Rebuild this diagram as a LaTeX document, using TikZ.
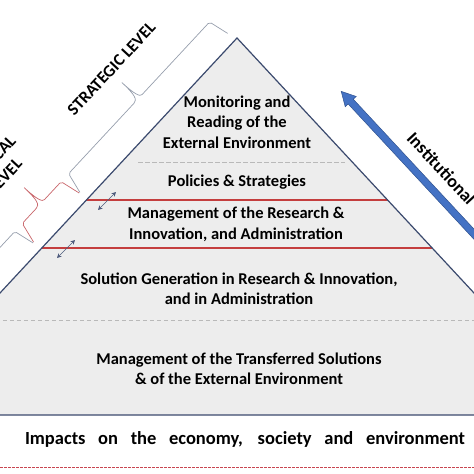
\documentclass[tikz,border=0pt]{standalone}
\usepackage{fontspec}
\setmainfont{Carlito}
\usetikzlibrary{calc,arrows.meta}
\definecolor{slate}{RGB}{59,74,110}
\definecolor{fillg}{RGB}{237,237,237}
\definecolor{redl}{RGB}{196,62,62}
\definecolor{braceg}{RGB}{150,158,172}
\definecolor{bracer}{RGB}{200,100,105}
\definecolor{blueA}{RGB}{68,114,196}
\definecolor{blueB}{RGB}{47,82,143}
\definecolor{dashg}{RGB}{185,185,185}
\definecolor{dashr}{RGB}{200,70,80}
\newcommand{\levelbrace}[4]{%
  \draw[#1, rounded corners=2pt] ({-(#2)},10) -- ({-(#2)-4},31) -- ({-(#3)+7},31)
    [sharp corners] .. controls ({-(#3)+2},31) and ({-(#3)},36) .. ({-(#3)},54)
    .. controls ({-(#3)},36) and ({-(#3)-2},31) .. ({-(#3)-7},31)
    [rounded corners=2pt] -- ({-(#4)+6},31) -- ({-(#4)},10);}
\begin{document}
\begin{tikzpicture}[x=1pt,y=1pt,
  body/.style={font=\fontsize{16.5}{20.5}\selectfont\bfseries, align=center, inner sep=0pt},
  lvl/.style={font=\fontsize{17}{20}\selectfont\bfseries, align=center, inner sep=0pt},
  redline/.style={draw=redl, line width=1.3pt},
  graydash/.style={draw=dashg, line width=0.9pt, dash pattern=on 4.5pt off 2.5pt},
  bracegray/.style={draw=braceg, line width=0.7pt},
  bracered/.style={draw=bracer, line width=0.7pt},
  dbl/.style={draw=slate!90, line width=0.7pt, {Stealth[length=4.5pt,width=4.5pt]}-{Stealth[length=4.5pt,width=4.5pt]}}
]
\useasboundingbox (0,0) rectangle (474,-474);
\clip (0,0) rectangle (474,-474);
\coordinate (A) at (237,-38);
\coordinate (BL) at (-113.4,-415);
\coordinate (BR) at (587.4,-415);
\fill[fillg] (A) -- (BL) -- (BR) -- cycle;
% inner lines
\coordinate (d1l) at (138,-162);
\coordinate (d1r) at (345,-162);
\draw[graydash] (d1l) -- (d1r);
\coordinate (r1l) at ($(A)!0.4297!(BL)$);
\coordinate (r1r) at ($(A)!0.4297!(BR)$);
\draw[redline] (r1l) -- (r1r);
\coordinate (r2l) at ($(A)!0.557!(BL)$);
\coordinate (r2r) at ($(A)!0.557!(BR)$);
\draw[redline] (r2l) -- (r2r);
\coordinate (d2l) at ($(A)!0.748!(BL)$);
\coordinate (d2r) at ($(A)!0.748!(BR)$);
\draw[graydash] (d2l) -- (d2r);
% outline
\draw[slate, line width=1.2pt, line join=miter] (A) -- (BL) -- (BR) -- cycle;
% texts
\node[body] (t1) at (237,-122) {Monitoring and\\Reading of the\\External Environment};
\node[body] (t2) at (237,-182) {Policies \& Strategies};
\node[body] (t3) at (236,-224.5) {Management of the Research \&\\Innovation, and Administration};
\node[body] (t4) at (239,-289) {Solution Generation in Research \& Innovation,\\and in Administration};
\node[body] (t5) at (239,-369) {Management of the Transferred Solutions\\\& of the External Environment};
\node[font=\fontsize{18.5}{22}\selectfont\bfseries, inner sep=0pt] (imp) at (245,-439)
  {\makebox[440pt][s]{Impacts on the economy, society and environment}};
\coordinate (bl0) at (0,-467);
\coordinate (bl1) at (474,-467);
\draw[dashr, line width=0.9pt, dash pattern=on 2.5pt off 1.5pt] (bl0) -- (bl1);
% small double arrows
\coordinate (a1s) at (98,-210);
\coordinate (a1e) at (116,-192);
\draw[dbl] (a1s) -- (a1e);
\coordinate (a2s) at (57,-258);
\coordinate (a2e) at (75,-240);
\draw[dbl] (a2s) -- (a2e);
% left braces and labels
\begin{scope}[shift={(A)}, rotate=47.09]
  \levelbrace{bracegray}{3}{111}{220}
  \levelbrace{bracered}{221}{254.5}{288}
  \draw[bracegray, rounded corners=2pt] (-289,10) -- (-293,31) -- (-420,31);
  \node[lvl, rotate=47.09] (strat) at (-108,71) {STRATEGIC LEVEL};
  \node[lvl, rotate=47.09] (tact) at (-259,86) {TACTICAL\\LEVEL};
\end{scope}
% right arrow and label
\begin{scope}[shift={(A)}, rotate=-47.09]
  \filldraw[fill=blueA, draw=blueB, line width=0.5pt]
    (350,36.5) -- (124,36.5) -- (124,32.5) -- (110,40) -- (124,47.5) -- (124,43.5) -- (350,43.5) -- cycle;
  \node[font=\fontsize{18}{21}\selectfont\bfseries, inner sep=0pt, rotate=-47.09, anchor=west] (inst) at (189,61) {Institutional};
\end{scope}
\end{tikzpicture}
\end{document}
